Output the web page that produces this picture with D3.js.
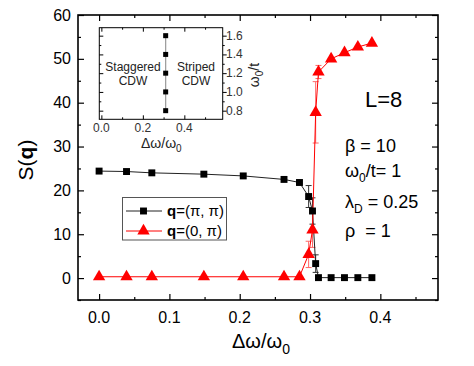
<!DOCTYPE html>
<html>
<head>
<meta charset="utf-8">
<script src="https://cdn.jsdelivr.net/npm/d3@7"></script>
<style>
  body { margin: 0; background: #fff; }
  text { font-family: "Liberation Sans", Arial, sans-serif; }
</style>
</head>
<body>
<script>
var w = 474;
var h = 366;

// main panel data
var xPi = [0.0, 0.039, 0.075, 0.149, 0.205, 0.263, 0.285, 0.298, 0.3035, 0.308, 0.312, 0.33, 0.349, 0.368, 0.388];
var sPi = [24.4, 24.3, 24.0, 23.7, 23.3, 22.5, 21.8, 18.6, 15.3, 3.3, 0.1, 0.1, 0.1, 0.1, 0.1];
var ePi = [0, 0, 0, 0, 0, 0, 0, 2.5, 3, 2, 0, 0, 0, 0, 0];

var xZero = [0.0, 0.039, 0.075, 0.149, 0.205, 0.263, 0.285, 0.298, 0.3035, 0.308, 0.312, 0.33, 0.349, 0.368, 0.388];
var sZero = [0.3, 0.3, 0.3, 0.3, 0.3, 0.3, 0.3, 5.4, 11, 37.8, 47, 50, 51.4, 52.7, 53.6];
var eZero = [0, 0, 0, 0, 0, 0, 0, 3, 4, 7, 1.5, 0, 0, 0, 0];

var xTicks = [0.0, 0.1, 0.2, 0.3, 0.4];
var yTicks = [0, 10, 20, 30, 40, 50, 60];

// inset data
var insetX = [0.31, 0.31, 0.31, 0.31, 0.31];
var insetW = [0.8, 1.0, 1.2, 1.4, 1.6];
var insetXTicks = [0.0, 0.2, 0.4];
var insetYTicks = [0.8, 1.0, 1.2, 1.4, 1.6];

var seriesPi = xPi.map(function(x, i) { return {x: x, y: sPi[i], e: ePi[i]}; });
var seriesZero = xZero.map(function(x, i) { return {x: x, y: sZero[i], e: eZero[i]}; });

var mLeft = 78, mRight = 438, mTop = 15, mBottom = 300;

var xScale = d3.scaleLinear().domain([-0.03, 0.482]).range([mLeft, mRight]);
var yScale = d3.scaleLinear().domain([-5, 60]).range([mBottom, mTop]);

var svg = d3.select("body").append("svg")
    .attr("width", w)
    .attr("height", h);

// ticks, inward on all four sides
function tickAxis(axisFn, scale, ticks, minor, pos, len) {
    svg.append("g")
       .attr("transform", pos)
       .call(axisFn(scale).tickValues(minor).tickSize(len / 2).tickFormat(""))
       .call(function(g) { g.select(".domain").remove(); g.selectAll("line").attr("stroke", "#000").attr("stroke-width", 1.2); });
    return svg.append("g")
       .attr("transform", pos)
       .call(axisFn(scale).tickValues(ticks).tickSize(len))
       .call(function(g) { g.select(".domain").remove(); g.selectAll("line").attr("stroke", "#000").attr("stroke-width", 1.2); });
}

var xMinor = [0.05, 0.15, 0.25, 0.35, 0.45];
var yMinor = [-5, 5, 15, 25, 35, 45, 55];

var gx = tickAxis(d3.axisTop, xScale, xTicks, xMinor, "translate(0," + mBottom + ")", 6);
gx.selectAll("text").remove();
svg.append("g").selectAll("text")
   .data(xTicks).enter().append("text")
   .attr("x", function(d) { return xScale(d); })
   .attr("y", 323)
   .attr("text-anchor", "middle")
   .attr("font-size", "16px")
   .text(function(d) { return d.toFixed(1); });

tickAxis(d3.axisBottom, xScale, xTicks, xMinor, "translate(0," + mTop + ")", 6).selectAll("text").remove();

var gy = tickAxis(d3.axisRight, yScale, yTicks, yMinor, "translate(" + mLeft + ",0)", 6);
gy.selectAll("text").remove();
svg.append("g").selectAll("text")
   .data(yTicks).enter().append("text")
   .attr("x", 71)
   .attr("y", function(d) { return yScale(d) + 5.5; })
   .attr("text-anchor", "end")
   .attr("font-size", "16px")
   .text(function(d) { return d; });

tickAxis(d3.axisLeft, yScale, yTicks, yMinor, "translate(" + mRight + ",0)", 6).selectAll("text").remove();

svg.append("rect")
   .attr("x", mLeft).attr("y", mTop)
   .attr("width", mRight - mLeft).attr("height", mBottom - mTop)
   .attr("fill", "none").attr("stroke", "#000").attr("stroke-width", 1.6);

// axis labels
svg.append("text")
   .attr("transform", "translate(33,160) rotate(-90)")
   .attr("text-anchor", "middle")
   .attr("font-size", "21px")
   .html('S(<tspan font-weight="bold">q</tspan>)');

svg.append("text")
   .attr("x", 232).attr("y", 348)
   .attr("font-size", "20px")
   .html('Δω/ω<tspan font-size="14px" dy="6">0</tspan>');

// series
var line = d3.line().x(function(d) { return xScale(d.x); }).y(function(d) { return yScale(d.y); });

function errorBars(data, color) {
    var eb = svg.append("g").selectAll("g")
       .data(data.filter(function(d) { return d.e > 0; }))
       .enter().append("g")
       .attr("stroke", color).attr("stroke-width", 1);
    eb.append("line")
      .attr("x1", function(d) { return xScale(d.x); }).attr("x2", function(d) { return xScale(d.x); })
      .attr("y1", function(d) { return yScale(d.y - d.e); }).attr("y2", function(d) { return yScale(d.y + d.e); });
    [-1, 1].forEach(function(s) {
        eb.append("line")
          .attr("x1", function(d) { return xScale(d.x) - 3; }).attr("x2", function(d) { return xScale(d.x) + 3; })
          .attr("y1", function(d) { return yScale(d.y + s * d.e); }).attr("y2", function(d) { return yScale(d.y + s * d.e); });
    });
}

errorBars(seriesPi, "#333");
errorBars(seriesZero, "#f66");

svg.append("path").datum(seriesPi)
   .attr("d", line).attr("fill", "none").attr("stroke", "#222").attr("stroke-width", 1);
svg.append("path").datum(seriesZero)
   .attr("d", line).attr("fill", "none").attr("stroke", "#f00").attr("stroke-width", 1);

var square = d3.symbol().type(d3.symbolSquare).size(48);
var triangle = d3.symbol().type(d3.symbolTriangle).size(66);

svg.append("g").selectAll("path")
   .data(seriesZero).enter().append("path")
   .attr("d", triangle)
   .attr("transform", function(d) { return "translate(" + xScale(d.x) + "," + yScale(d.y) + ")"; })
   .attr("fill", "#f00");

svg.append("g").selectAll("path")
   .data(seriesPi).enter().append("path")
   .attr("d", square)
   .attr("transform", function(d) { return "translate(" + xScale(d.x) + "," + yScale(d.y) + ")"; })
   .attr("fill", "#000");

// legend
svg.append("rect")
   .attr("x", 122.5).attr("y", 197.5).attr("width", 104).attr("height", 42.5)
   .attr("fill", "#fff").attr("stroke", "#555").attr("stroke-width", 1);

var legend = [
    {label: "(π, π)", color: "#222", sym: square, y: 211},
    {label: "(0, π)", color: "#f00", sym: triangle, y: 231}
];
var lg = svg.append("g").selectAll("g").data(legend).enter().append("g");
lg.append("line")
  .attr("x1", 126).attr("x2", 162).attr("y1", function(d) { return d.y; }).attr("y2", function(d) { return d.y; })
  .attr("stroke", function(d) { return d.color; });
lg.append("path")
  .attr("d", function(d) { return d.sym(); })
  .attr("transform", function(d) { return "translate(143.5," + d.y + ")"; })
  .attr("fill", function(d) { return d.color === "#222" ? "#000" : d.color; });
lg.append("text")
  .attr("x", 167).attr("y", function(d) { return d.y + 5; })
  .attr("font-size", "15px")
  .html(function(d) { return '<tspan font-weight="bold">q</tspan>=' + d.label; });

// annotations
svg.append("text").attr("x", 365).attr("y", 107).attr("font-size", "22px").text("L=8");
var ann = svg.append("g").attr("font-size", "18px");
ann.append("text").attr("x", 345).attr("y", 152).text("β = 10");
ann.append("text").attr("x", 345).attr("y", 177)
   .html('ω<tspan font-size="12px" dy="5">0</tspan><tspan dy="-5">/t= 1</tspan>');
ann.append("text").attr("x", 345).attr("y", 208)
   .html('λ<tspan font-size="12px" dy="5">D</tspan><tspan dy="-5"> = 0.25</tspan>');
ann.append("text").attr("x", 345).attr("y", 237).text("ρ \u00a0= 1");

// inset
var iL = 99.3, iR = 222.7, iT = 27.7, iB = 119.3;
var ix = d3.scaleLinear().domain([-0.01, 0.585]).range([iL, iR]);
var iy = d3.scaleLinear().domain([0.708, 1.685]).range([iB, iT]);

var inset = svg.append("g");
function insetTicks(axisFn, scale, ticks, pos, len) {
    inset.append("g").attr("transform", pos)
       .call(axisFn(scale).tickValues(ticks).tickSize(len).tickFormat(""))
       .call(function(g) { g.select(".domain").remove(); g.selectAll("line").attr("stroke", "#000"); });
}
var ixMinor = [0.1, 0.3, 0.5];
var iyMinor = [0.9, 1.1, 1.3, 1.5];
insetTicks(d3.axisTop, ix, insetXTicks, "translate(0," + iB + ")", 4);
insetTicks(d3.axisTop, ix, ixMinor, "translate(0," + iB + ")", 2);
insetTicks(d3.axisBottom, ix, insetXTicks, "translate(0," + iT + ")", 4);
insetTicks(d3.axisBottom, ix, ixMinor, "translate(0," + iT + ")", 2);
insetTicks(d3.axisRight, iy, insetYTicks, "translate(" + iL + ",0)", 4);
insetTicks(d3.axisRight, iy, iyMinor, "translate(" + iL + ",0)", 2);
insetTicks(d3.axisRight, iy, insetYTicks, "translate(" + iR + ",0)", 4);
insetTicks(d3.axisRight, iy, iyMinor, "translate(" + iR + ",0)", 2);

inset.append("rect")
   .attr("x", iL).attr("y", iT).attr("width", iR - iL).attr("height", iB - iT)
   .attr("fill", "none").attr("stroke", "#000").attr("stroke-width", 1);

inset.append("g").selectAll("text").data(insetXTicks).enter().append("text")
   .attr("x", function(d) { return ix(d); }).attr("y", 132)
   .attr("text-anchor", "middle").attr("font-size", "12px").attr("fill", "#333")
   .text(function(d) { return d.toFixed(1); });
inset.append("g").selectAll("text").data(insetYTicks).enter().append("text")
   .attr("x", 226).attr("y", function(d) { return iy(d) + 4; })
   .attr("font-size", "12px").attr("fill", "#333")
   .text(function(d) { return d.toFixed(1); });

var insetPts = insetX.map(function(x, i) { return {x: x, y: insetW[i]}; });
inset.append("path").datum(insetPts)
   .attr("d", d3.line().x(function(d) { return ix(d.x); }).y(function(d) { return iy(d.y); }))
   .attr("stroke", "#999").attr("stroke-width", 1.2).attr("fill", "none");
inset.append("g").selectAll("rect").data(insetPts).enter().append("rect")
   .attr("x", function(d) { return ix(d.x) - 2.5; }).attr("y", function(d) { return iy(d.y) - 2.5; })
   .attr("width", 5).attr("height", 5).attr("fill", "#000");

inset.append("text").attr("x", 133).attr("y", 71).attr("text-anchor", "middle").attr("font-size", "12px").attr("fill", "#222").text("Staggered");
inset.append("text").attr("x", 133).attr("y", 85).attr("text-anchor", "middle").attr("font-size", "12px").attr("fill", "#222").text("CDW");
inset.append("text").attr("x", 196).attr("y", 71).attr("text-anchor", "middle").attr("font-size", "12px").attr("fill", "#222").text("Striped");
inset.append("text").attr("x", 196).attr("y", 85).attr("text-anchor", "middle").attr("font-size", "12px").attr("fill", "#222").text("CDW");

inset.append("text").attr("x", 141).attr("y", 148).attr("font-size", "14px").attr("fill", "#222")
   .html('Δω/ω<tspan font-size="10px" dy="4">0</tspan>');
inset.append("text").attr("transform", "translate(259,75) rotate(-90)").attr("text-anchor", "middle")
   .attr("font-size", "14px").attr("fill", "#222")
   .html('ω<tspan font-size="10px" dy="4">0</tspan><tspan dy="-4">/t</tspan>');
</script>
</body>
</html>
